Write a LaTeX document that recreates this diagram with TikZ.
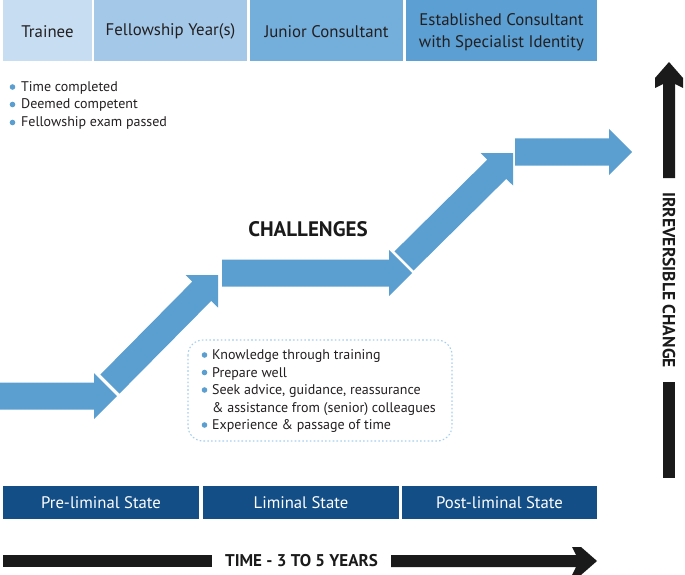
\documentclass[tikz,border=0pt]{standalone}
\usepackage{fontspec}
\setmainfont{PT Sans}
\setsansfont{PT Sans}
\definecolor{topA}{HTML}{C6DDF2}
\definecolor{topB}{HTML}{A4C8E8}
\definecolor{topC}{HTML}{74AEDB}
\definecolor{topD}{HTML}{5B9FD3}
\definecolor{arrowblue}{HTML}{5B9FD0}
\definecolor{darkblue}{HTML}{134E86}
\definecolor{inkblack}{HTML}{1A1A1A}
\definecolor{txt}{HTML}{231F20}
\definecolor{dotline}{HTML}{A6CFEE}
\tikzset{
  topbox/.style={draw=none, inner sep=0pt, text=txt, align=center,
    font=\fontsize{16.8}{22}\selectfont},
  statebox/.style={draw=none, fill=darkblue, minimum height=33pt, inner sep=0pt, text=white,
    font=\fontsize{16.7}{18}\selectfont},
  itemtext/.style={anchor=west, inner sep=0pt, text=txt, text height=9.5pt, text depth=2.5pt,
    font=\fontsize{14}{17}\selectfont},
  dotmark/.style={circle, fill=arrowblue, inner sep=0pt, minimum size=5.6pt},
  bigarrow/.style={fill=arrowblue, draw=none},
  blackbar/.style={fill=inkblack, draw=none},
}
\begin{document}
\begin{tikzpicture}[x=1pt,y=-1pt]
\useasboundingbox (0,0) rectangle (685,575);
% top boxes
\fill[topA] (3,0) rectangle (92,61);
\fill[topB] (94,0) rectangle (247,61);
\fill[topC] (250,0) rectangle (403,61);
\fill[topD] (406,0) rectangle (597,61);
\node[topbox] (trainee) at (47.5,31.5) {Trainee};
\node[topbox] (fellow) at (170.5,31.5) {Fellowship Year(s)};
\node[topbox] (junior) at (326.5,31.5) {Junior Consultant};
\node[topbox] (estab) at (501.5,32.5) {Established Consultant\\with Specialist Identity};
% top-left list
\node[dotmark] (d1) at (12.5,87) {};
\node[dotmark] (d2) at (12.5,104.5) {};
\node[dotmark] (d3) at (12.5,122.5) {};
\node[itemtext] (c1) at (21,88) {Time completed};
\node[itemtext] (c2) at (21,105.5) {Deemed competent};
\node[itemtext] (c3) at (21,123.5) {Fellowship exam passed};
% arrows
\fill[bigarrow] (0,382.5) -- (94,382.5) -- (94,373) -- (117,396) -- (94,419) -- (94,409.5) -- (0,409.5) -- cycle;
\fill[bigarrow] (119.55,393.55) -- (211.29,300.81) -- (218,307.5) -- (218,275) -- (185.5,275) -- (192.2,281.7) -- (100.45,374.45) -- cycle;
\fill[bigarrow] (222,259.5) -- (389,259.5) -- (389,250) -- (412,273) -- (389,296) -- (389,286.5) -- (222,286.5) -- cycle;
\fill[bigarrow] (413.55,270.55) -- (506.29,178.81) -- (513,185.5) -- (513,153) -- (480.5,153) -- (487.2,159.7) -- (394.45,251.45) -- cycle;
\fill[bigarrow] (515,138.5) -- (609,138.5) -- (609,129) -- (632,152) -- (609,175) -- (609,165.5) -- (515,165.5) -- cycle;
% challenges
\node[font=\fontsize{21}{23}\selectfont\bfseries, text=inkblack] (chal) at (308,229) {CHALLENGES};
% dotted box
\draw[dotline, line width=1.1pt, dash pattern=on 1.6pt off 2.2pt, rounded corners=15pt] (188,340) rectangle (452,441);
\node[dotmark] (e1) at (204.5,355) {};
\node[dotmark] (e2) at (204.5,372.5) {};
\node[dotmark] (e3) at (204.5,390) {};
\node[dotmark] (e5) at (204.5,425) {};
\node[itemtext] (k1) at (212,356) {Knowledge through training};
\node[itemtext] (k2) at (212,373.5) {Prepare well};
\node[itemtext] (k3) at (212,391) {Seek advice, guidance, reassurance};
\node[itemtext] (k4) at (212,408.5) {\& assistance from (senior) colleagues};
\node[itemtext] (k5) at (212,426) {Experience \& passage of time};
% state boxes
\node[statebox, minimum width=196pt] (pre) at (101,502.5) {Pre-liminal State};
\node[statebox, minimum width=196pt] (lim) at (301,502.5) {Liminal State};
\node[statebox, minimum width=195pt] (post) at (499.5,502.5) {Post-liminal State};
% time arrow
\fill[blackbar] (3,555) rectangle (212,567);
\fill[blackbar] (391,555) -- (576,555) -- (572,547) -- (581,547) -- (597,561) -- (581,575) -- (572,575) -- (576,567) -- (391,567) -- cycle;
\node[font=\fontsize{17}{19}\selectfont\bfseries, text=inkblack] (time) at (301.5,561) {TIME - 3 TO 5 YEARS};
% vertical arrow
\fill[blackbar] (663,178) -- (663,84) -- (655,88) -- (655,78) -- (669,62) -- (683,78) -- (683,88) -- (675,84) -- (675,178) -- cycle;
\fill[blackbar] (663,382) rectangle (675,478);
\node[font=\fontsize{17.5}{19}\selectfont\bfseries, text=inkblack, rotate=-90] (irr) at (669,280) {IRREVERSIBLE CHANGE};
\end{tikzpicture}
\end{document}
